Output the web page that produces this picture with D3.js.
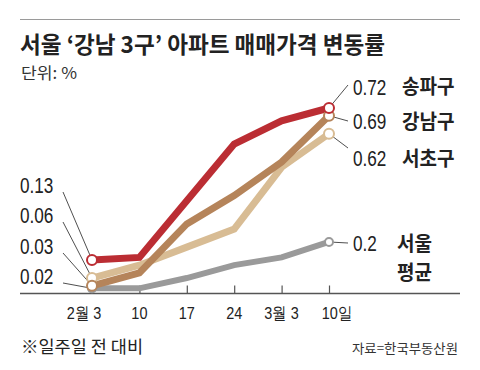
<!DOCTYPE html>
<html>
<head>
<meta charset="utf-8">
<script src="https://cdn.jsdelivr.net/npm/d3@7"></script>
<style>
    body { margin: 0; background: #fff; }
    svg { display: block; }
    .num { font-family: "Liberation Sans", "Roboto", sans-serif; }
    .kr { font-family: "Noto Sans CJK KR", sans-serif; }
</style>
</head>
<body>
<svg id="chart" width="480" height="370"></svg>
<script>

// weekly dates (x axis)
var dates = ["2월 3", "10", "17", "24", "3월 3", "10일"];

// weekly change, %
var songpa = [0.13, 0.14, 0.36, 0.58, 0.67, 0.72];
var gangnam = [0.03, 0.08, 0.27, 0.38, 0.51, 0.69];
var seocho = [0.06, 0.11, 0.18, 0.25, 0.49, 0.62];
var seoul = [0.02, 0.02, 0.06, 0.11, 0.14, 0.2];

var seriesNames = ["서울 평균", "서초구", "강남구", "송파구"];
var seriesColors = ["#9a9a9a", "#d8bc94", "#b5845a", "#bb2d33"];

var svg = d3.select("#chart");

var x = d3.scalePoint()
    .domain(dates)
    .range([92, 329]);

var y = d3.scaleLinear()
    .domain([0, 0.72])
    .range([293.5, 108]);

// squeeze text horizontally to mimic the condensed face of the original
function condense(sel, k) {
    sel.each(function () {
        var w = this.getComputedTextLength();
        d3.select(this)
            .attr("textLength", w * k)
            .attr("lengthAdjust", "spacingAndGlyphs");
    });
}

// top rule + header
svg.append("line")
    .attr("x1", 20).attr("x2", 460)
    .attr("y1", 19.5).attr("y2", 19.5)
    .attr("stroke", "#9a9a9a")
    .attr("stroke-width", 1);

svg.append("text")
    .attr("class", "kr")
    .attr("x", 20).attr("y", 53)
    .attr("font-size", 23)
    .attr("font-weight", "bold")
    .attr("fill", "#222")
    .attr("textLength", 365)
    .attr("lengthAdjust", "spacingAndGlyphs")
    .text("서울 ‘강남 3구’ 아파트 매매가격 변동률");

svg.append("text")
    .attr("class", "kr")
    .attr("x", 21).attr("y", 79)
    .attr("font-size", 16)
    .attr("fill", "#333")
    .attr("textLength", 56)
    .attr("lengthAdjust", "spacingAndGlyphs")
    .text("단위: %");

// x axis
var axis = d3.axisBottom(x).tickSize(-8).tickFormat("");
var gAxis = svg.append("g")
    .attr("transform", "translate(0,293.5)")
    .call(axis);
gAxis.select(".domain").remove();
gAxis.selectAll(".tick line").attr("stroke", "#555").attr("stroke-width", 1.2);

svg.append("line")
    .attr("x1", 20).attr("x2", 460)
    .attr("y1", 293.5).attr("y2", 293.5)
    .attr("stroke", "#555")
    .attr("stroke-width", 1.5);

var tickShift = {"2월 3": -8, "10일": 8};
svg.append("g").selectAll("text")
    .data(dates)
    .enter().append("text")
    .attr("class", "num")
    .attr("x", function (d) { return x(d) + (tickShift[d] || 0); })
    .attr("y", 318.5)
    .attr("text-anchor", "middle")
    .attr("font-size", 17)
    .attr("fill", "#222")
    .text(function (d) { return d; })
    .call(condense, 0.85);

// lines
var allSeries = [seoul, seocho, gangnam, songpa];

var line = d3.line()
    .x(function (d, i) { return x(dates[i]); })
    .y(function (d) { return y(d); });

svg.append("g").selectAll("path")
    .data(allSeries)
    .enter().append("path")
    .attr("d", line)
    .attr("fill", "none")
    .attr("stroke", function (d, i) { return seriesColors[i]; })
    .attr("stroke-width", function (d, i) { return i == 0 ? 6 : 7; })
    .attr("stroke-linejoin", "miter");

// leader lines + labels, left side (first values)
var leftLabelY = [276, 215, 246, 185];   // per series, text centre
allSeries.forEach(function (s, i) {
    svg.append("line")
        .attr("x1", 63).attr("y1", leftLabelY[i] + 7)
        .attr("x2", x(dates[0])).attr("y2", y(s[0]))
        .attr("stroke", "#222")
        .attr("stroke-width", 0.8);
    svg.append("text")
        .attr("class", "num")
        .attr("x", 20).attr("y", leftLabelY[i] + 8)
        .attr("font-size", 22)
        .attr("fill", "#222")
        .text(s[0])
        .call(condense, 0.78);
});

// leader lines + labels, right side (last values)
var rightLabelY = [243, 158, 121, 87];
var rightLineY = [243, 148, 121, 85];
var last = dates.length - 1;
allSeries.forEach(function (s, i) {
    svg.append("line")
        .attr("x1", 348).attr("y1", rightLineY[i])
        .attr("x2", x(dates[last])).attr("y2", y(s[last]))
        .attr("stroke", "#222")
        .attr("stroke-width", 0.8);
    svg.append("text")
        .attr("class", "num")
        .attr("x", 353).attr("y", rightLabelY[i] + 8)
        .attr("font-size", 22)
        .attr("fill", "#222")
        .text(s[last])
        .call(condense, 0.78);
});

// series names
var nameG = svg.append("g").attr("class", "kr")
    .attr("font-size", 20).attr("font-weight", "bold").attr("fill", "#222");
nameG.append("text").attr("x", 402).attr("y", 94).text(seriesNames[3]);
nameG.append("text").attr("x", 402).attr("y", 129).text(seriesNames[2]);
nameG.append("text").attr("x", 402).attr("y", 166).text(seriesNames[1]);
nameG.append("text").attr("x", 397).attr("y", 251).text(seriesNames[0].split(" ")[0]);
nameG.append("text").attr("x", 397).attr("y", 280).text(seriesNames[0].split(" ")[1]);
nameG.selectAll("text").call(condense, 0.95);

// end markers
allSeries.forEach(function (s, i) {
    [0, last].forEach(function (j) {
        svg.append("circle")
            .attr("cx", x(dates[j]))
            .attr("cy", y(s[j]))
            .attr("r", i == 0 ? 4 : 5)
            .attr("fill", "#fff")
            .attr("stroke", seriesColors[i])
            .attr("stroke-width", 2);
    });
});

// footnotes
svg.append("text")
    .attr("class", "kr")
    .attr("x", 21).attr("y", 353)
    .attr("font-size", 17)
    .attr("fill", "#222")
    .attr("textLength", 122)
    .attr("lengthAdjust", "spacingAndGlyphs")
    .text("※일주일 전 대비");

svg.append("text")
    .attr("class", "kr")
    .attr("x", 458).attr("y", 353)
    .attr("text-anchor", "end")
    .attr("font-size", 13)
    .attr("fill", "#333")
    .attr("textLength", 106)
    .attr("lengthAdjust", "spacingAndGlyphs")
    .text("자료=한국부동산원");

</script>
</body>
</html>
